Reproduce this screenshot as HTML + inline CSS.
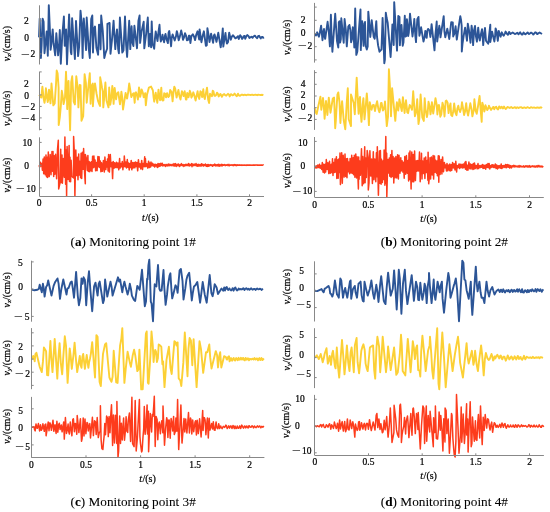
<!DOCTYPE html>
<html><head><meta charset="utf-8"><title>Monitoring points</title>
<style>html,body{margin:0;padding:0;background:#fff;}svg{display:block;filter:blur(0.3px);}</style>
</head><body>
<svg width="550" height="512" viewBox="0 0 550 512">
<rect width="550" height="512" fill="#fff"/>
<polyline fill="none" stroke="#2c5597" stroke-width="1.9" stroke-linejoin="round" points="39,37.4 39.7,18.6 40.9,58 41.6,45.2 42.6,18.6 43.6,21.9 44.5,53.2 45.3,46 46.7,31.4 47.8,55.8 48.8,5.1 50,31.9 50.6,49.8 51.4,43.9 52.7,29.4 53.6,43.5 55.2,55.4 56.3,33.2 58.1,55.3 59.2,43.5 59.8,30 60.8,63.8 62.3,35.1 63.9,16.5 64.7,45.8 65.4,37.5 66.1,29.4 67,64.2 69.1,14.4 70,34.6 70.8,51.9 71.4,54.2 72.1,18.1 74.9,59 76,20.9 78.1,56.1 79.1,46.9 80.5,10.7 81.8,23.8 82.6,58 83.1,37.1 83.8,18.5 84.8,32.6 86.1,50.1 86.7,17.5 88.7,47.8 89.8,58 91.2,19.1 92.3,15.5 93,52.5 93.9,28.9 95,26.5 96.4,47.7 98.1,54.8 99,24.6 99.7,25 100.6,49.4 101.2,15.5 102.8,31.2 104.3,58 105.5,53.1 107.1,48.7 107.4,23.8 108.5,23.4 109.6,23 110.5,53.8 111.9,40.7 113.6,20.7 114.5,37.5 115.3,49.1 116.3,35.3 117,29.4 118.2,49.4 118.9,53.4 119.9,17.5 122.3,52.6 123.5,50.3 125,16.5 126.1,44.3 127.1,56.9 129.2,20.7 130.3,49.1 131.1,32.6 131.6,26.3 132.4,42.4 133.4,46.1 134.4,25.8 137,48.3 138.4,21 139.6,15.5 140.1,43 141.6,31.5 143.7,21.7 144.3,48.4 146.2,33.3 147.8,17.5 148.8,46.3 150,33.9 151.1,47.2 151.7,21.4 152.6,43.7 154.2,48.8 155,38.2 155.7,31.5 157.5,41.1 158.5,31.8 159.5,24.8 160.2,36.6 160.8,41.5 161.7,39.4 162.5,34.7 163.1,38.3 164.1,42.3 165,35.6 165.5,34 166.5,39.2 167.9,43.1 168.6,32.6 169.3,31 170.3,39.5 171.1,46.3 171.7,37.9 172.6,34.4 173.6,37.3 174.7,40.4 176,36.3 176.8,31.1 177.5,33.6 178.7,40.3 179.9,36.4 181.2,30.5 182.3,35.3 183,39.9 184.1,37.1 185,33.2 186.1,35.9 186.9,40.4 188.1,39.9 188.9,35.6 189.5,35.7 190.4,43 191.4,36.1 192.8,34.3 194,36.5 195.1,40.1 196.2,34.8 197.5,31.3 198.1,34.2 199.2,39.6 199.6,29.4 201.4,42.2 202.7,35.7 203.9,31.3 205.9,45.9 206.8,45.3 207.4,28.2 208.5,34.6 209.5,42.1 211.1,33.6 213.1,42.8 213.9,35.7 214.5,34.4 215.3,37 216.5,41.9 218.3,32.8 220.7,47.4 221.8,39.5 222.8,28.4 223.3,46.6 224.2,40.6 225.5,32.9 226,38.6 226.9,43.6 228,42.2 229.2,32.7 230.2,37.2 230.8,39.7 231.7,36.9 232.9,35.2 233.9,36.4 235.4,38.3 236.6,37.7 237.5,36.5 238.1,36.2 238.8,39 240.2,35.2 241.2,36.6 242.1,38.9 243.1,37.6 243.7,36.1 244.6,35.9 245.2,38.9 246.5,35.8 247.2,35.1 248.4,36 249.5,38 250.4,37.3 251.4,36.7 252.6,37.8 253.4,36.5 254.9,35.7 256,37.1 257.2,38.2 258.3,36 259.1,35.8 259.8,36.9 260.8,38.4 261.4,37.1 262.2,36.9 262.9,37.2 263.6,38.6"/>
<polyline fill="none" stroke="#fcd035" stroke-width="1.9" stroke-linejoin="round" points="39,94.9 39.9,95.8 41.3,97.6 42.4,86.7 43.6,98.4 44.5,102.8 45.2,98.9 45.9,88.3 47.7,102.1 48.2,99.9 49,89.6 49.9,97 50.5,103.3 51.5,83.5 53.3,105.3 54.7,103.5 56,84.3 56.7,70.5 57.6,73.3 58.6,87.7 58.7,125 59.8,117.3 60.8,106.4 61.8,90.8 62.7,96 63.6,104.1 65,97.5 66,71.7 66.8,90 67.2,109.1 67.9,86.4 68.5,80.9 70.1,130.2 71.2,82.1 72.2,76.3 73.7,101.7 74.9,104.5 75.6,89.3 76.3,76.3 77.6,87 78.4,107.4 79.7,85 80.5,85.1 81.5,120.8 83.2,116.1 84.6,74.2 85.9,82.8 86.7,102.7 88,90.2 89.8,73.2 90.6,103.8 91.9,85.1 92.8,83.5 92.9,106.3 94,90.2 95,83.5 96.5,93.5 98.1,101.2 99.3,104.3 100,106 100.2,77.3 101.3,83.4 102,87.4 102.8,91.4 103.3,107.4 104.2,97.6 105.4,82.5 106.5,100.5 108.5,107.4 109.2,87.5 110.3,104.7 111.4,97.7 112.3,85.9 112.9,90.8 113.6,103.9 114.7,88 116.1,99.3 116.9,93.7 118.3,92.2 119.1,98 120,104.3 120.9,96.6 121.4,91.6 122.2,97.2 123,109.5 125.6,93 126.4,97 127.1,98.5 128.2,92.1 129.2,83.5 130.1,88.8 131.3,97.1 132.5,94.3 133.4,93.3 133.9,94.9 134.7,102.8 135.3,92.7 136,92.2 137,95.5 137.9,99.6 139,87.5 139.5,89.8 140.2,96.9 141.2,92.5 141.7,89.5 142.9,92.8 143.7,97.3 144.3,96.4 145.2,93.1 145.8,105.3 147,94.8 148.9,87.6 151.1,86.6 152.9,90.5 153.6,97.4 154.2,101.7 155.7,92.7 156.3,96.6 157.3,102.8 158.5,89.7 159.2,96.3 160.1,100.2 160.8,93.4 161.3,87.6 161.9,99.5 162.6,100.6 163.4,100.3 164.2,93.2 165.2,93.9 166,97.4 167.1,93.1 168.3,97 169.4,95.8 170.2,89.9 171.7,92.3 172.6,101.3 173.5,91.7 174.3,86.6 175.2,88.7 176.6,97.6 178.4,89.9 179.4,95.9 180.5,99.6 181.9,91.2 182.5,92.5 183.6,96.1 184.7,91.3 185.9,99.5 186.5,99.5 187.2,93 187.8,93.9 188.5,97.3 189,95.4 189.8,90.8 190.7,93 191.4,97.7 192.3,95.8 193.3,92.3 194.3,95.3 195.6,100.5 196.5,96.1 197.6,91.2 198.3,96.2 199.3,98.9 200.4,91.3 201.2,92.2 202.1,97.1 203.3,89.3 203.9,96.1 204.8,99 207,87.6 208.2,99.8 209.1,103 210,93.8 210.9,95.4 212,96.2 212.7,90.8 213.4,91.3 214.4,95.9 215.3,95.8 216.1,95 217,92.7 217.8,93.6 218.7,96.4 220.5,93.9 221.9,96.8 223,94.8 224.2,94.1 225,95 226.2,95.7 228,93.8 229.1,94.9 229.7,96.4 230.4,94.4 231.2,94.3 232.4,95.4 233.2,95.1 234.6,93.6 235.5,95 236.9,96.2 238,93.7 238.8,95.3 240,95.8 241.1,95 241.7,94.6 242.6,94.8 243.4,95.2 243.9,95 244.8,94.7 245.8,95.1 246.4,95.2 247.7,94.7 248.6,94.6 249.6,94.9 250.7,95 251.3,94.9 252,94.7 252.6,94.8 253.4,95.1 255.4,94.6 257.2,95.2 258.3,94.7 259.5,94.9 260.7,95 262.3,94.8 263.4,95.2"/>
<polyline fill="none" stroke="#fd3c1c" stroke-width="1.5" stroke-linejoin="round" points="39,165.2 39.7,167.2 40.5,162.2 40.9,166 41.8,163.4 42.4,170.3 43.1,159 43.7,173.8 44.3,157 45.2,174.7 46,154.9 46.5,176.8 47.2,157.2 47.6,177.6 48.3,152.1 49.2,176.6 50.2,154.6 51,174.7 52,151.4 52.5,171.3 53,151.6 53.7,176.6 54.3,155.8 54.9,174.3 55.6,154.3 56.6,178.7 57.5,149.6 58.3,140.2 58.7,188.9 60,183.1 60.7,149.2 61.2,182.6 62,155 62.4,183.2 63.4,158.6 64.3,177.3 64.9,137.1 65.6,184.3 66.1,150 66.6,196.2 67.1,146.6 68.1,179.6 69.1,145.4 69.5,181.4 70,157.2 70.6,181.8 71.1,160.2 72,176.5 72.7,177.2 73.6,177.9 73.6,136.5 74.3,152.1 74.9,196.2 75.8,150 76.6,175.6 77.4,157.3 78,179.8 78.7,154.1 79.1,175.1 79.8,161.3 80.6,177.7 81.1,153.2 81.7,178.6 82.4,152.3 83.2,169.3 83.6,148.5 84.6,173.2 85.3,183.7 85.3,154.4 86.5,158.6 87.2,170.2 87.9,155.4 88.3,171.5 89.1,161.4 89.7,171.7 90.2,162.5 90.9,170.4 91.4,161.7 92,171.5 92.6,156.3 93.2,167.7 93.9,155.9 94.6,167.1 95.1,160 95.6,170.8 96.5,162.4 97.1,170.6 97.9,156.6 98.5,166.7 99.1,156.7 99.6,167.5 100.3,160.9 100.9,171.7 101.5,162.8 102.4,171.3 103.4,160.6 104.3,171.9 104.9,157.1 105.8,169.6 106.5,161.7 107.1,167.1 107.5,158.9 108.1,170.9 108.6,154.5 109.4,172.1 110.3,154.4 111,166.7 111.9,162.5 112.6,178.6 113.2,161.4 114.1,168.2 114.7,162.7 115.6,167.4 116.5,162.2 117,167.7 117.9,163.1 118.8,169.8 119.6,158.6 120.1,168.1 121,163.4 121.5,166.8 122.3,161.6 122.9,169.7 123.4,163.2 123.9,166.7 124.3,156 125.2,166.7 125.9,161.9 126.5,167.9 127.3,159.6 127.9,167.2 128.5,163.1 129.2,169.9 129.9,163.5 130.4,167.6 131.2,160.4 131.8,169.8 132.6,162.6 133.2,168 134,162.6 134.8,167.8 135.4,162 136.2,166.5 136.8,162.6 137.7,170.8 138.4,159.7 139.2,167 139.9,163.7 140.8,168.9 141.7,160.4 142.5,169.6 143.2,163.5 144,166.5 144.7,156.8 144.9,166.7 145.4,158.6 145.9,166.4 146.8,163.7 147.7,168.1 148.6,161.2 149.3,167.6 149.8,163 150.5,167.1 151,162.1 151.9,165.8 152.5,163.3 153.4,166 153.9,164.3 154.7,167 155.3,164.2 156,166.1 156.6,164.6 157.3,167.4 158,163.4 158.5,166.7 159.3,163.7 160,166.2 160.8,163.2 161.3,165.6 162.2,163.3 162.9,166 163.7,164.6 164.3,165.7 165,164.5 165.6,166.4 166.5,164.5 167.3,165.9 168.2,164 168.8,165.7 169.2,164.2 169.9,165.6 170.5,164.5 171.3,165.6 172.3,164.3 173.1,166 174,163.6 174.7,166 175.5,163.6 176.2,166.4 177.1,164.3 177.7,165.7 178.5,164 179.4,166.6 180,164.7 180.6,165.6 181.4,163.6 182.3,165.7 183.2,164.5 183.9,166.4 184.3,164.7 185.2,165.7 185.8,164.2 186.6,165.5 187.2,164.4 187.9,165.6 188.7,163.5 189.3,166 189.8,164.6 190.6,165.5 191.5,163.6 192,166.7 192.6,163.9 193.5,165.7 194.3,164.1 195.1,165.7 196,163.5 196.8,166 197.3,164.4 197.9,166.2 198.7,164.3 199.2,166.1 200,164.7 200.9,166.1 201.4,163.7 201.9,165.7 202.7,164.2 203.4,166.1 204.1,164.6 204.6,165.5 205.4,164 206.2,166.2 206.8,164.7 207.4,166.4 207.9,164.4 208.4,166.2 209,164.6 209.7,165.9 210.5,164.6 211.4,165.5 212,164.8 212.5,166.2 213.3,164.8 213.8,165.7 214.7,164.1 215.5,165.9 216,164.6 216.6,165.8 217.3,164.8 217.9,166 218.3,164.2 219.2,166.2 219.8,164.5 220.6,165.8 221.6,164.4 222.1,166 222.8,164.6 223.7,165.3 224.5,164.5 225.2,165.6 225.9,164.9 226.6,165.3 227.3,164.6 228,165.6 228.9,164.4 229.4,165.7 230.2,165 230.8,165.3 231.3,164.8 232.2,165.4 233.1,164.7 233.6,165.6 234.4,164.6 235.2,165.5 235.8,164.7 236.8,165.6 237.4,164.8 238.1,165.3 238.6,165 239.1,165.3 239.8,164.8 240.5,165.3 241.3,165 242,165.4 242.6,165.1 243.5,165.3 244.2,165 244.9,165.3 245.4,165.1 246,165.4 246.5,165 247,165.2 247.5,165 248,165.2 248.5,165.1 249.2,165.2 249.6,165 250.3,165.3 250.7,165 251.4,165.2 252.3,165.1 252.8,165.3 253.3,165 253.9,165.2 254.4,164.9 255,165.3 255.6,164.9 256.2,165.2 256.8,164.9 257.6,165.2 258,165 259,165.3 259.4,165.1 259.9,165.2 260.3,165.1 261.1,165.3 261.7,164.9 262.3,165.3 263.3,164.9 263.7,165.2"/>
<polyline fill="none" stroke="#2c5597" stroke-width="1.9" stroke-linejoin="round" points="314.7,33.5 315.4,34.3 315.9,35.5 316.5,34.2 317.2,32.3 317.9,34.6 318.9,36.7 319.8,33 321.1,25.6 322.5,40.2 323.3,32.1 324,29 324.6,36.5 325.2,38.9 327.6,21.8 328.9,32.8 329.9,46.4 330.9,14.8 331.5,34.8 332.4,51.7 335.2,13.7 337,41 338.3,47.5 338.8,22.3 339.5,21.2 340.1,42.6 340.8,39.4 341.3,18.3 343.7,42.7 344.6,19 345.8,29.5 346.8,46.4 348.3,26.6 349.4,24.9 350.4,30.3 351.1,42.2 352,39 352.8,27.3 353.4,31 354.3,47.5 355.2,8.4 356.3,54.9 357.3,51.7 358.8,31.3 360.5,9.5 360.8,50.1 361.4,36.5 362.2,21.1 362.9,34.3 363.6,45.9 364.4,23.5 365,22 365.7,45.7 366.8,49.6 367.7,46.5 368.3,11.6 369.2,21.8 370.3,37 370.9,31.5 371.7,20.2 373.7,36.8 374.7,38.7 376.3,21.1 377,36.7 378.1,45.4 379.5,51.7 380.6,50.4 381.5,49.5 382.6,17.9 383.7,45.8 384.3,63.3 384.9,59.5 385.8,12.7 386.6,17.8 387.7,22.8 390.6,57 391.7,38.8 392.4,24.4 393.1,29 393.7,45 394.2,2.1 397,50.6 398.3,15.9 399.5,16.9 399.9,45.3 400.8,28 401.5,24.9 402.2,35.5 402.7,45.7 403.5,42.2 404.8,15.8 405.6,36.6 406.2,36.1 406.9,19.2 407.7,27.5 408.2,36 408.8,32.9 410,13.7 412.5,36.5 413.7,26.8 414.3,18.9 415.3,35.5 416,42.1 417.3,19.2 418.5,16.9 419.4,35.8 420.4,31.2 421.1,27.3 423.5,41.6 424.6,37.3 425.3,30.9 426.1,34.4 426.7,37.8 427.3,30.8 428.1,28.9 429.4,30.3 430.4,37 431.6,24.1 434.5,50.4 435.3,36.2 436.7,21.5 437.2,41.6 439.3,25.8 439.9,29.3 440.5,37.4 443.7,16.1 444.4,31.3 445.3,37.3 447.3,28.6 449.3,39 451.2,22.3 452.8,22.5 453.2,36.5 454.4,33.7 455.6,26.3 456.8,39.6 458.8,25.9 460.3,16.1 461,19.6 461.7,25.9 461.8,51.5 462.5,43.9 463.7,35.7 464.6,30.4 465.1,27.6 467,40.8 467.8,23.6 469.1,31 470.5,42.7 471.6,25.6 472.5,32.5 473.1,45.1 474.2,29.4 475,25.9 475.9,36 476.9,41.7 478.2,27.7 479.2,37.8 479.8,40.6 480.8,34.6 482,29.1 482.8,38.7 483.2,45.1 484.3,32.7 485,28 486,40.8 486.7,41.8 488.2,43.8 490.3,24.7 490.3,42.1 492.1,31.6 493.5,37.9 494.4,41.5 495.1,36 495.6,28.4 496.6,31.4 497.8,40.8 498.8,30.9 499.4,32.9 500.6,36.7 501.8,32.3 502.9,34.9 503.8,35.7 504.9,33.3 505.6,31.6 507,33.9 507.9,34.8 509.1,31.9 509.9,33 510.4,34.1 511.5,33.3 512.7,32.5 514.9,34 515.9,33.6 517.3,32.8 518.6,34.3 519.4,33.1 520.1,32.3 521.6,34.6 522.5,34.5 523.6,32.6 524.7,33.9 525.5,34.3 526.7,33.3 527.6,32.4 528.8,34 529.8,33.6 531.1,32.6 532.5,33.5 533.3,34.6 535.2,32.3 536.1,32.7 537.2,34.1 539.6,32.5 542,34"/>
<polyline fill="none" stroke="#fcd035" stroke-width="1.9" stroke-linejoin="round" points="314.7,107.7 315.6,112.3 316.7,114 318.4,105.7 320.4,96.6 321.3,109.8 323,98 323.7,104.4 324.6,118.7 325.3,110.5 326,101 326.8,109.4 327.4,115 328,106.9 328.8,97.6 330.5,112.7 331.5,106.5 332.8,98.5 334.1,97.6 335.2,128.2 335.8,121.2 336.4,110.2 337.4,94.7 338.3,92.4 339.5,102.4 340.4,123 341.3,109.5 342.1,101.1 343.7,120 345.3,129.3 346.7,103.3 347.8,88.2 348.7,119.3 349.8,122.4 351,126.1 351,94.5 353.7,103 354.8,114.2 356.7,77.6 357.4,92.1 358.6,113.8 359.4,99.9 360,96.9 360.8,114.5 361.5,121.9 362.7,104.4 363.4,98.2 364.5,119.4 365.5,109.1 366.8,93.4 368,108.5 368.9,125.1 369.8,102.1 370.6,106.2 371.6,109.7 372.7,105.1 373.8,104.9 375,111.1 376,105.5 377.1,101.2 378.4,109.1 379.4,112.2 380,110.1 380.9,103.2 381.6,102.9 382.9,110.5 384.2,108.2 385,101.5 386.1,116.2 386.8,126.1 388,116.6 388.9,69.2 389.8,84.3 391,116.2 392.1,88.2 395.3,120.9 396.2,108.6 396.9,102.3 397.4,105.9 398.2,110.5 398.8,106.1 399.4,99.2 400.8,106.5 401.8,111.1 402.9,97.1 404.6,113 405.3,105.2 406,100.3 407.3,112.4 408.1,113.2 408.7,109.8 409.7,105 410.9,106.8 412,109.8 413.2,91.3 414.1,104.1 414.9,116.3 416.2,111.9 417.2,99.2 417.7,109.4 418.5,124 419.3,119.2 420.6,94.5 422.3,117.3 423.8,120.9 424.7,98.3 425.5,109.1 426.9,117 427.6,113.7 428.5,101.7 429.7,106.7 430.5,114.4 431.3,109.1 431.9,102.2 433.2,113.5 434.1,107.8 435.5,98.1 436.7,104.8 437.4,114.5 438.2,105.5 438.9,104.9 439.5,107.8 440.3,116.7 441.3,114.3 442.5,102.7 443.7,107.2 444.5,116.5 445.7,101.1 446.5,100.6 447.6,102.6 448.6,113.1 449.3,107.7 450.5,103.4 451.2,115.2 452.2,116.2 453.4,110.5 454.2,103.4 455.3,112.4 456.5,115.2 457.4,108.5 458.3,105.7 459,109 460.1,112 461.3,108 462,102.3 462.9,107.4 464.1,115 465,111.8 466.2,103.2 466.9,110.3 468.1,115.6 470.3,103.3 471.5,109.1 472.4,116.4 473.7,110.2 474.4,99.3 475.7,110.9 476.7,113.8 477.9,107 479.6,96 480.4,107 481.7,121.8 482.3,102.6 483.6,107 484.3,111.5 484.8,109.7 485.5,105.2 486.6,108.4 487.3,110.1 488.4,108 488.9,105.7 489.9,107.8 491,109.9 492.2,108.2 493,107.1 493.5,106.9 494.2,109.3 495.1,107.6 496.2,106.7 496.9,108.4 498.1,109.4 499.2,106.4 500.5,108.3 501,107.3 501.7,106.7 502.3,107.9 503,108.5 504,106.6 504.7,107.8 505.6,109 506.2,108.6 507.4,107 508.5,107.4 509.7,108 510.2,107.6 511.2,107 512.2,107.8 512.8,108.1 514.1,107.5 515,107.2 516,108.2 517.2,107.3 517.9,107.7 518.7,108 519.7,107.4 521,107.2 522.6,108.1 523.5,107.6 524.5,107.4 525,107.7 525.7,108 526.7,107.6 527.5,107.2 528.5,107.6 529.8,108 530.4,107.7 531.3,107.2 532.3,107.8 533.3,107.6 534.1,107.4 534.5,107.6 535.3,107.9 536.3,107.7 537.6,107.5 538.3,107.7 539.2,107.8 539.9,107.7 540.6,107.3 541.4,107.5 542.1,108"/>
<polyline fill="none" stroke="#fd3c1c" stroke-width="1.5" stroke-linejoin="round" points="314.7,166.4 315.6,167.9 316.1,165.8 316.9,168 317.8,165 318.6,167.6 319.5,164.2 320.2,168.3 321,165.4 321.7,169.4 322.3,162.6 323.1,172.2 323.7,164.3 324.5,173 325.2,164.3 325.7,172 326.3,159.6 327.1,169.4 327.9,162.7 328.8,173.6 329.5,161.2 330.3,173.2 331.3,164.2 331.9,172.8 332.5,158.8 333,175.5 333.7,162.6 334.5,172.4 335,158.9 335.5,171.9 336.4,156.7 336.8,178.6 337.3,159.7 338.2,178.2 338.8,158.9 339.4,172.5 340,153 340.4,184.6 341.7,152.7 342.3,183.3 343.2,155.3 344.1,177.1 345,154.1 345.7,176.4 346.5,158.7 347,177.7 347.5,158.5 348.4,171.7 348.8,161.9 349.6,173.8 350.1,158.5 351.1,173 351.7,155.3 352.5,173.4 353.2,157.7 353.7,174.7 354.3,155.3 354.9,177.2 355.8,153.9 356.5,178.1 357.1,156.8 358.4,188.9 358.7,156.9 359.1,179.2 359.6,161.1 360.4,175.2 361.5,148.8 362.2,185.7 362.7,156.5 363.6,183.7 364.7,146.7 365.1,182.7 365.8,157.9 366.4,177.4 367.2,150.5 368.2,157.4 368.3,189.9 369,183 369.9,150.7 370.7,176.1 371.6,159 372.4,183.4 373.3,151.7 374,179.7 374.8,159.1 375.8,181.7 376.4,152.8 377.1,176.7 377.3,146.7 378.4,195.2 379.4,151 379.8,183.2 380.4,150.6 381.1,184.3 381.5,159.3 382.4,182.5 383.1,160.7 383.6,179.6 384.1,149.9 384.9,185.3 385.8,136.5 386.2,183.5 386.7,153.3 386.8,197.3 387.8,159.5 388.5,173 389.3,157.9 389.8,176.3 390.6,154.8 391.1,177.5 391.9,150.4 392.5,176.5 393.1,156.6 393.8,183.1 394.6,158.1 395.2,177.8 395.9,156.4 396.8,177.9 397.6,154.8 398.4,179 399,155.3 400,173.2 400.8,157.7 401.2,170.9 402.1,160.7 402.9,172.1 403.5,162.3 404.2,178.3 404.8,156.6 405.7,174.3 406.4,155.4 407.3,173.3 408.1,160.5 408.6,181.1 409,153 409.9,179.5 410,150.9 411.1,188.9 411.8,152.1 412.7,181.7 413.2,154.4 413.8,181.7 414.6,151.1 415.4,180.6 416.3,160.8 417,171.2 417.7,160.6 418.6,171 419.5,152 420.2,181.8 420.7,160.6 421.1,171.8 421.5,153.2 422,179.1 422.5,160.9 423.2,173.6 424.2,158 424.9,178.5 425.7,157.1 426.3,172.6 427.2,160.6 427.9,180.2 428.1,152.2 428.7,183.8 429.5,176 430,157.7 430.6,178.9 431.4,157 432.2,174.9 433.1,155.5 433.6,179.1 434.5,156 435.1,172.2 435.6,160.3 436.5,173.2 437,161 437.4,175.8 438.3,155.7 438.8,182.3 439.2,156 440.1,174.4 441.1,159.6 441.9,173.9 442.6,156.9 443.5,171.8 444.4,162.6 445.2,167.8 445.7,165 446.5,171 447,163.4 447.5,170.8 448.3,165.1 449.3,170.6 449.8,164.1 450.3,170.9 451.2,164.8 451.7,170.4 452.6,162.4 453.3,167.9 454.1,163.8 455,170 455.8,161.3 456.6,171.9 457.1,165.4 458,167.6 459,163.9 459.5,168.5 460.3,164.2 461.1,167.8 462,164.3 462.8,168 463.6,163.9 464.3,167.6 465,162.3 465.5,169.2 465.9,161.5 466.9,170.2 467.6,165.3 468,170.1 468.9,162 469.8,168.7 470.4,164 471,169 471.9,164.4 472.9,169.4 473.3,163.5 474.1,168.9 474.5,163.1 475.2,168.5 475.7,165.6 476.2,167.5 476.8,165.5 477.2,168.8 478,163.5 478.6,168.6 479.3,165.6 480.2,167.6 480.8,165.5 481.7,167.3 482.3,164.6 483,168.4 483.4,164.9 484.2,168.2 484.9,165.3 485.7,169.2 486.4,164.4 487.3,167.4 487.9,163.5 488.4,167.7 489.1,163.4 489.8,169 490.3,165.4 491.1,167.5 491.9,164.8 492.3,167.1 493,164.8 493.5,167.4 494,165.4 494.5,167.6 495.3,164 496.1,168.5 496.7,164.9 497.5,168.9 498.1,165.8 498.5,167.9 499.4,165.6 500.3,168.2 501.2,163.9 501.7,168.5 502.2,165.7 502.8,167.8 503.3,165.4 503.8,167.1 504.3,165.8 504.8,167.4 505.5,164.5 506.2,167.8 506.8,164.7 507.4,167.1 507.8,164.6 508.3,167.2 509,164.9 509.7,168 510.5,165.6 511.4,167.9 512.1,165.7 512.8,166.7 513.6,165.4 514.2,167 514.8,165.4 515.4,166.8 516.2,166 517.2,166.9 517.9,166 518.7,166.9 519.1,165.5 519.6,167 520.4,165.9 521.1,166.9 522,166.2 522.9,167 523.6,165.8 524.4,167.2 525.4,165.9 526,166.8 526.9,165.9 527.4,167 527.9,166 528.7,167 529.4,165.6 530.1,167.3 531,166.1 531.9,166.8 532.8,165.8 533.5,166.7 534.4,166 534.8,167.1 535.2,166.2 535.7,167 536.4,165.9 537.3,166.9 537.9,165.5 538.4,166.6 538.9,165.5 539.6,166.8 540.2,166 541,167 541.6,166.1 542.5,166.9 543.2,166.1"/>
<polyline fill="none" stroke="#2c5597" stroke-width="1.9" stroke-linejoin="round" points="31.4,289.1 32.5,289.9 34.3,290.2 37.5,289.8 38.8,289 39.7,284.8 41.8,292.3 42.9,283.8 43.7,288 44.6,296.6 45.6,290 46.1,287 47.2,285.3 48.2,280.5 51.5,295.6 53.6,285.9 55.2,281.9 57.5,278.4 58.6,283.6 60,298.8 61.3,289.3 63.3,279.5 66.5,294.5 67.5,288.3 68.6,288 70.6,282.3 71.8,281.6 72.9,289 74,297.7 74.9,287.1 76.1,271.9 77.8,296 78.9,305.2 80.3,298.1 81.5,278.4 82.6,283.8 83.6,277.3 84.9,279.9 86.2,305.2 87.7,282.6 89,271.3 90.4,290.2 92.2,311.2 94.1,286.3 95.5,282.7 97.6,295.6 98.7,283.9 99.7,281.6 101.3,291.8 103,303.1 104,300 105.1,279.5 107.3,296.6 110.5,281.6 111.6,286.9 112.6,295.6 118,277.3 119.1,281.6 120.1,279.5 122.3,292.3 123.1,287.2 124.4,281.6 125.6,286.8 127.6,294.5 128.9,289.4 129.8,283.8 131,289.2 131.9,295.6 133.9,299.8 135.2,300.9 137.3,285.9 138.5,287.7 139.7,289.7 142,269.8 144.8,306.3 146,301.6 147.1,278.7 147.6,279.5 148.4,265.5 149.3,259.7 150,277.5 150.8,301.6 151.6,303.6 153,321.3 153.8,301.3 154.7,284.2 156.4,286.5 158,265 159.4,288.8 160.2,290.7 161.6,290.6 163.5,270 164.3,287.3 165.6,304.9 167,294.9 167.8,286.4 169.5,275.9 170.4,273.3 171.4,289.2 172.2,298.4 173.7,292.7 175.5,285.3 176.8,287.8 177.6,292.9 179.6,270.3 180.9,268.9 182.5,280.8 183.5,299.5 185.3,288.4 186.4,279.8 187.5,275.8 189.2,272.8 190.2,283 191.8,300.5 192.7,293.6 194,286.4 195.4,285.3 197.3,282 198.4,289.8 200.1,302.7 201,296.2 202.7,282 204.8,294.9 206.7,302.7 209.7,275 211.4,293.2 212.6,296.2 213.6,291.7 214.7,284.2 216.6,287.5 218,294 221.5,288.6 222.5,289.6 223.2,290.7 224.2,287.5 225,290.6 225.8,287.8 226.8,287 227.4,289.3 228.3,290 229.4,288.4 230.1,289.6 231,290.4 232,289.6 232.6,288.2 233.6,290.7 234.4,288.5 235.4,287.5 236.2,289.4 237,290.5 238,289.7 238.6,288.6 239.9,289.6 240.7,288.9 241.8,289.5 242.4,289.2 243.3,288.2 243.7,288.7 244.5,290 245.4,288.8 246.3,288.2 247.5,289.5 248.5,288.8 249.5,289.7 250.1,289.2 251.2,288.3 251.7,288.8 252.5,289.7 253.2,289.4 254.1,288.9 254.9,289 255.6,289.9 256.5,289 257.2,288.4 258.5,289.4 259.2,289.2 260.1,288.7 260.9,289.3 261.7,289.9 262.9,288.7"/>
<polyline fill="none" stroke="#fcd035" stroke-width="1.9" stroke-linejoin="round" points="31.4,359.1 32.6,358.3 33.2,356 34,357.8 34.7,361.4 35.4,354 36.4,352.8 39.7,366.8 41.8,372.1 42.9,361.9 43.9,347.5 46.1,351.3 47.1,375.1 48.2,375.4 50.4,341 51.4,359.5 52.5,372.1 54.7,338.9 57.3,378.6 58.5,356.7 59.6,343.2 60.8,363 62.2,374.3 63.2,358.1 64.8,336.3 66,345.6 67.6,382.9 68.6,367.2 69.7,348.5 70.6,355.2 71.8,368.9 73.4,355.5 74.6,342.7 76.1,361 77.2,372.1 79.8,356 80.6,364.9 81.5,367.8 82.4,356.8 83.2,353.9 84.9,368.9 86.7,355 88.4,367.8 89.1,362.3 90.1,358.2 90.9,353.6 92.2,342.1 95,377.5 96.4,335.1 97.6,336.7 99.6,382.1 100.8,386.1 103,353.9 105,344.4 106.2,343.2 109.4,377.5 110.3,379.5 111.5,381.8 112.6,376.8 113.7,350.7 116.2,382.4 117.6,382.9 119.2,357.6 120.1,345.3 121.4,338.3 122.3,328.1 124.4,382.9 125.7,369.2 127.6,351.8 129.7,361.9 130.9,366.8 132.7,355.4 134.1,349.6 135.3,355.6 137.3,371.1 138.4,369.5 139.4,349.6 141.2,389.4 142.7,389.3 145.9,333.5 146.7,331.5 147.9,382.7 148.6,383.8 150.5,354.4 151.5,331.5 152.8,345.7 153.6,362 154.3,354.2 155.2,350 156,351.7 156.9,362 157.9,358.3 158.7,344.5 159.7,345.1 161.3,346.7 162.4,364.2 163.1,361.4 164.5,387.1 166.5,359.9 168.9,346.7 170.5,368.1 171.7,374 173.3,354.3 174.4,341.3 175.7,342.5 176.5,345.6 177.6,342.4 178.7,378.4 180.3,380.5 181.3,386 183.3,362.9 184.8,332.5 186.2,354.5 187.5,376.2 188.5,348.6 189.6,338 190.9,340.4 192.3,365.3 192.8,352 193.6,339.1 196.6,387.1 198.3,360.6 199.5,341.3 201,349.2 203.2,372.9 206,352.2 207.3,352.2 209.3,344.5 210.2,357.4 211.5,368.5 215.8,351.1 217.1,355.2 218,367.5 219.3,355.9 220.2,352.2 221.3,367.5 224.1,356.2 225.9,357.1 226.7,359.4 227.1,359.6 228.3,356.7 229,356.2 229.6,361.4 230.6,359.6 231.1,358.1 232.1,360.7 233.6,357.9 234.2,359.5 235.1,360.5 236.2,358.1 237.7,360.2 238.6,357.8 239.4,359.7 240.1,359.5 240.9,357.8 241.9,359.6 243.1,357.9 243.8,359.2 244.3,360.3 244.8,360.4 245.6,357.9 246.8,359.7 247.9,358.3 249,360.2 249.9,358.7 250.5,359.1 251.2,359.6 252.2,358.7 253,359 253.6,359.6 254.5,358 255.6,359.6 256.4,358.7 257.1,358.4 258,360.3 258.8,358.7 259.4,358.1 260.3,360.1 261.5,358 262.4,360.1 263,359.6 263.8,358.4"/>
<polyline fill="none" stroke="#fd3c1c" stroke-width="1.5" stroke-linejoin="round" points="31.4,426.9 32.5,427.3 34,426.6 34.5,429.4 35.2,430.9 36,423.9 36.8,427.7 37.3,428.3 38.4,423.6 39.6,430.9 40.5,424.8 41.3,430.3 42.1,428.8 42.9,423.8 44.3,431.3 45,424.7 45.8,424 46.1,435.8 48.2,422 49,430.7 49.9,422.8 50.6,424.6 51.4,430.3 52.3,425 53,420.2 53.8,431.3 55,424.8 56.1,433.4 56.9,421.3 57.8,432.2 58.8,424.4 59.3,423.2 60.1,429.5 60.8,426.4 61.3,424.9 62.1,431.8 62.7,428.6 63.7,421.9 64.3,439.1 65.4,417.6 66.5,433.4 67.2,430.2 68.1,424.1 68.7,431.5 69.4,434 70.3,422.1 71,428.6 71.9,435.8 72.8,419.5 73.4,418.8 74.4,431.7 75.1,423.4 75.7,423.9 76.8,434.3 77.2,415.5 78.2,425 78.9,432.6 79.5,426.6 80.4,418.8 81.5,441.2 82.1,438.9 83.2,418.1 84,435.9 85,419.1 85.9,433.8 87,422.4 87.7,423.5 88.3,430.9 88.8,427.2 89.8,423.6 90.5,438 92.4,417.2 93.4,435.6 94.5,420.8 95.4,421.8 96.2,434.4 97.2,417.6 98.3,437.6 99.4,432.2 100.2,431.5 100.4,405.8 101.1,439.6 101.9,448.7 102.9,449.5 103.5,442.2 104.1,436.3 104.8,423.4 105.5,434.8 106.6,416.1 107.6,418.2 108.3,436.6 109.1,416.5 110,432.8 110.9,412.7 111.5,404.7 112.6,445.5 113.4,414.9 114.5,442.9 115.4,415.3 116.2,432 116.8,443.5 116.9,401.5 118,457.3 118.6,451.5 119.7,415.9 120.5,443.4 121.4,423.3 122.3,439.9 123.6,418 124.5,440.2 125.5,429.4 126.1,416.7 127,431.4 127.7,432.4 128.3,420.2 129.4,413.1 130.6,441.4 131.9,397.2 132.6,443.6 134.1,446.6 135.2,400.4 136.2,450.9 137.3,439 139.4,399.4 139.9,436.1 140.5,443.6 141.6,451.9 142.1,451 143,436.7 143.7,428.7 144.3,406.5 145.1,434.3 145.9,427.2 147.1,404.9 147.5,434 148.4,411.2 148.6,451.8 149.5,431 150.3,413.6 150.8,420.4 151.6,431.9 152.3,414.6 153,416.4 153.7,406.6 154.3,396.2 155.2,446.4 156.1,416.6 157.1,419.4 157.8,439.7 158.5,424.6 159.3,421.9 160.4,433.8 160.9,425.9 161.8,420.8 162.8,432.8 163,406 163.9,428.2 164.5,445.3 165.7,427.5 166.7,417.7 167.2,419.9 167.9,437.4 168.8,420.1 169.2,420.1 170.2,438.3 171.1,418.5 171.7,421.6 172.7,430.9 173.6,416.4 174.3,434.5 175.3,431.4 175.9,418 176.8,431.3 177.6,399.5 178.7,449.6 180,424.5 180.9,404.9 182,443.1 183,431.5 184,418.5 184.8,432 185.7,419 186.9,433 187.7,423.3 188.5,412.5 189.4,432.9 190.5,417.9 191,419.7 191.8,434 192.7,420 193.7,431.7 195,422.3 195.6,420.7 196.4,435 197.2,420.2 198.3,433.6 199,426.6 199.6,418.7 201.1,437 202.7,410.4 203.1,430.4 203.8,417.6 204.4,417.8 205.1,420 205.9,434.7 206.8,423.4 207.4,418 208.3,437.9 209.2,418.2 210,430.1 211,426.4 211.6,423.6 212.5,429 213.3,421.8 214.2,430 215,430.2 216.1,421.9 216.6,426.5 217.3,428.6 217.9,428.7 218.7,423.7 219.7,428.5 220.7,425.9 221.2,427.4 222.1,428.6 223.3,426.4 224.1,427 224.7,427.4 225.9,425.1 226.4,425.8 227.2,428.6 228.2,426.8 228.7,425.8 229.6,428.1 230.2,426.3 230.9,425.9 232,428.5 233,425.4 233.6,426.8 234.3,428.6 235,425.9 236,428.6 236.5,428.4 237.3,426 238.2,428.2 238.8,428.2 239.8,425.9 240.7,428.4 241.8,425.1 242.7,426.8 243.5,428.2 244.3,426.2 244.9,426 245.7,427.9 246.8,426 247.3,427.3 248.1,428 248.9,425.7 249.4,425.7 250,427.1 251,427.3 252.1,425.8 252.8,426.5 253.5,427.9 254.4,426 255.4,427.3 256.1,427.7 257.4,425.8 258.3,427.2 259,426.5 259.8,426 260.8,427.8 261.8,426.4 262.8,427.2 263.9,426"/>
<polyline fill="none" stroke="#2c5597" stroke-width="1.9" stroke-linejoin="round" points="314.9,290.8 316.2,291 317.2,291.1 321.6,289.1 322.7,291.1 323.7,292.3 324.6,288.9 325.9,288 328.5,285.9 329.5,288.3 330.2,293.4 331.1,294 332.3,296.6 333.3,293.5 334.9,280.5 337,294.5 337.9,295.8 338.8,297.7 340.3,278.5 341.3,280.5 343,297.7 344.2,291.2 345.2,288 346,292.3 347.3,297.7 349.9,281.6 350.6,280.4 351.2,298.8 352.9,289.2 354.8,285.9 355.6,292.6 357,297.7 358.5,283.8 359.4,283 360.6,281.6 361.6,295.1 362.8,300.9 363.7,301.5 364.5,281.6 366,288.6 367.7,295.6 369.8,289 371.4,280.5 373,293.2 374.2,298.8 376.3,284.8 377.3,291.2 378.5,302 380.2,283.9 381.2,276.2 383.8,300.9 384.5,302.4 385.5,304.1 386.7,287.3 388.1,272.6 390.7,295.6 392.8,288.7 394.1,270.4 395.5,289.7 396.7,309.5 397.9,287.2 398.8,269.8 399.8,278.3 401.4,313.8 403,283.7 404.8,269.8 406,290.9 407.4,304.1 411.7,275.2 412.5,283.9 413.9,300.9 416,281.6 417.3,287.2 418.2,299.8 419.1,300.2 420.3,282.7 421.7,295.2 422.4,299.8 423.7,292.7 424.6,283.8 425.5,287.1 426.7,303.1 427.8,285.7 428.9,279.5 429,273 429.9,286.1 431.6,303.1 433,288.2 433.7,279.5 434.5,294.4 435.4,299.8 436.6,290.5 437.6,281.6 439.7,292.3 440.5,286.3 441.9,281.6 442.6,298.9 444,312.7 446.2,290.6 448.3,273 449.2,277.9 450.5,297.7 452,292.6 453.7,285.9 454.5,283.6 455.8,278.4 457.1,289.6 459,321.3 462.3,260.6 463.4,262.6 464.4,279.5 465.4,280.4 466.6,290.2 467.7,294.6 468.7,298.8 469.8,290.8 470.8,281.6 471.6,304.3 472.3,314.9 475.8,266.6 476.8,284.1 477.6,291.4 479.4,281.6 480.6,292.5 481.6,297.7 483.1,297.8 484.4,303.1 486.5,281.6 487.7,290.8 489.1,296.6 490.4,290.4 492.3,287 493.2,290.3 494.5,294.5 496.4,291.1 498.4,289.5 499.8,292 500.9,289.7 501.5,290 502.3,292.1 503.3,289.3 504.1,291.1 505,292.5 505.8,291.1 506.5,290.2 507.7,291.3 508.5,289.9 509.1,291.2 509.8,292.3 511.2,289.9 511.8,289.8 512.7,291.9 514,289.9 515.3,291.6 516.1,291.1 516.8,289.6 517.3,289.3 518,291.8 518.6,290.1 519.3,289.3 520.2,291.2 520.9,292.3 521.5,291.2 522.1,289.1 522.8,292.4 523.8,292.5 524.8,290.5 525.4,290.3 527,292.3 527.8,289.9 528.9,292.1 529.8,290.3 530.4,290 531.3,291.3 532.2,289.3 534,291.4 534.9,290.5 535.5,289.1 536.5,291.8 537.2,289.6 537.7,289.1 538.8,290.3 539.4,291.1 540.4,289.3 541,290.4 541.8,291.7 542.5,290.4 543.4,289.4"/>
<polyline fill="none" stroke="#fcd035" stroke-width="1.9" stroke-linejoin="round" points="314.9,357.6 316.9,355.3 318.8,359.1 320.7,354 321.7,357.9 322.7,362.3 323.8,358.3 324.6,354 326.5,348.2 327.3,357.6 327.8,363.6 328.6,361.4 329.7,355.9 330.3,358.3 331,364.9 332.2,353.5 333,350.8 334.9,366.2 335.6,368.4 336.8,347.5 338.1,367.4 339.2,377.6 340.4,361.4 342,340 343.2,355.1 344.5,374.4 346,357.3 346.9,345.4 348.3,362.8 349.5,371.1 350.6,352.4 351.6,347.5 353.8,372.2 354.9,345.3 356.6,337.9 357.6,362.2 359.1,373.3 360,364.6 361.3,350.8 362.3,347.2 363.4,344.3 364.7,349.9 365.6,363.6 366.8,368.7 367.7,371.1 369.9,347.5 371.1,346.6 373.1,345.4 374.2,370.1 375.2,378.6 376.5,347.5 377.4,336.8 379.1,346.7 380.2,372.2 381.6,355.1 382.7,336.8 386,372.2 387.2,360.8 388.1,346.5 390.7,370.1 394.1,347.5 396.3,374.9 397.8,372.2 399.8,354.2 401,334.7 401.8,345.6 402.7,371.1 404.2,373.4 405.3,375.4 407.8,338.9 409.5,358.7 410.6,372.2 411.6,359.2 412.8,341.1 413.9,347.8 414.9,359.1 416.2,347.8 417.1,345.4 418.2,370.1 419.5,370.5 420.3,376.5 421.2,351.2 422.4,335.7 424.2,353.7 425.7,371.1 428.1,350.4 429.6,345.4 430,336.8 431.3,354.2 432.2,370.1 433.3,378.6 437.2,328.2 438.5,383.5 439.3,389.4 440.5,362.6 442.3,332.5 444,357.4 445.7,387.2 449.4,344.3 450.9,355.9 452.6,371.1 454.8,355 456.4,345.4 458,336.8 459,346.8 460.1,362.6 462.9,377.6 466.6,343.2 467.6,357.1 468.7,363.6 471.9,350.8 473.4,364.7 474.2,361.2 475.1,350.8 476.6,364.1 477.9,371.1 479.1,360.4 481.1,345.4 482.2,355.4 483.7,375.4 484.9,358.8 485.9,352.9 487.5,358.4 488.7,360 489.8,358.8 491.5,354 492.2,356 493.1,360.5 493.7,359.6 494.6,356.4 495.4,358.4 496.4,355.8 497.3,354.8 499.2,358.4 500.2,355.9 500.8,355.5 501.7,358.5 502.4,359.3 503.3,356.8 504.4,356.6 505.8,360.7 507,357.8 507.7,355.4 508.6,357.3 509.3,359.4 510,358.7 511.2,356.4 511.8,356.9 512.8,359.6 513.8,358.3 514.6,356.3 515.7,358.4 516.3,359.5 517.8,355.9 518.4,357.5 519.1,359 519.7,357.6 520.6,356.9 521.2,358.9 522.2,359.8 523.1,358 524,355.8 524.5,357.7 525.3,359.3 526.7,356.7 528.5,357.8 529.1,357.8 530.2,357.3 531.7,358.1 532.8,356.8 533.6,357.4 534.2,358.1 535.1,357.9 536.1,357.2 536.9,357.9 537.5,357.6 538.5,357.2 539.6,358.3 540.3,357.2 541.1,357.1 542,357.5 543,357.9"/>
<polyline fill="none" stroke="#fd3c1c" stroke-width="1.5" stroke-linejoin="round" points="314.9,426.1 315.5,426 316.4,426.8 317.4,425.7 318.1,426.2 318.6,426.5 319.4,426.7 320.3,424.9 320.9,424.6 321.7,427 322.5,425.3 323.3,424.4 324,426.6 324.6,427.5 325.5,427.4 326.3,424.8 327.1,425.6 328,427.2 328.9,424.8 329.6,423.8 330.2,425.9 330.8,429.2 331.7,424.8 332.5,426.1 333.5,428.5 334.4,422.1 336.2,428.6 336.8,427.3 337.5,423.2 338.6,431.2 339.6,420.1 340.5,429 341.2,424.8 342.2,421.6 342.7,427.1 343.4,431.1 344.3,424.4 344.7,421.6 345.6,431.7 346.5,429 347.4,418.9 348.3,429.4 349,430 349.5,427.8 350.2,420.1 351.2,424.9 351.7,428.6 352.8,421.8 353.7,425.9 354.8,437.1 355.5,424.1 356.2,427.6 357.2,430.4 357.9,429.3 358.6,422 359.4,421.6 359.8,430.2 360.6,427.9 361.5,422.7 362.3,426.2 362.9,429 363.8,424.6 364.4,423.4 365.5,429.9 366.4,423.9 367,423.2 367.6,424 368.4,429.2 369.5,419.7 370.6,427.2 371.3,430.6 373.2,422 375,430 376.2,415.3 376.9,413.5 377.8,427.6 378.9,418.9 380,429.4 380.9,423.7 381.5,427.5 382.3,432.7 383,432 384.2,420.3 385.1,429.8 385.8,425 386.7,416.5 387.4,428.7 388.1,437.1 389.2,426.2 390.3,408.1 391.3,426.6 392,442.4 393.9,432.5 394.1,405.3 395.7,418.6 396.5,429.9 397.5,434.5 398.7,437.3 399.9,405.3 400.5,404.2 401.2,414.8 401.4,442.4 402.1,434.6 402.7,430.8 403.8,425.8 404.5,417.4 405.6,433.9 406.3,421 407.5,416 408.1,423.8 408.9,437.6 410.8,413.6 411.4,426.3 412,435.2 412.9,408.7 413.4,408.1 414.3,416.9 415.3,433.6 416.5,413.6 417.3,416.4 417.9,429.4 418.2,412.4 420.3,448.9 421.5,425.5 422.9,405.9 423.9,408.2 424.6,443.5 425.6,417.6 426.3,405.9 426.7,441.3 427.4,428.7 428.2,415.4 428.8,423.4 429.7,431.9 430.1,411.3 433.3,446.7 433.6,417.8 434.4,432.6 435.1,431.9 435.4,405.9 436.3,438.6 437.6,439 438.5,428.3 439.1,411.9 439.8,421.4 440.3,430.3 440.8,415.6 441.9,428.7 442.9,451 443.8,418.8 445,441.9 445.1,408.1 446.1,410.6 446.9,433.6 447.7,422.7 448.2,419 449.4,453.2 450.5,434.8 451.5,413.5 452,415.2 452.9,438.6 453.6,447.6 454.3,455.3 455.1,457 455.9,441.1 456.5,394.6 458,427.4 459,453.2 460.4,435.4 461.2,407 461.8,442.2 463.2,414.1 463.9,433.4 464.4,443.5 465.2,432.4 466.6,403.8 466.7,435.1 467.7,418.9 468.1,452.1 469.1,426.5 470.2,401.7 471.2,446.7 471.9,443.5 472.5,417.1 473.6,432 474.3,441.2 475.4,420.7 476,439.7 476.9,440.4 477.7,423.6 478.4,414.6 478.9,427.1 479.7,437.9 480.5,405.9 481.6,432 482.2,444.6 483.2,417.3 484.2,430.4 485.2,414.5 486.7,428.1 487.6,418.8 488.4,419.3 489.5,427.3 490.1,430 491,424.4 491.7,422.1 492.6,432.3 493.5,426.7 494.3,422.7 495.1,423.8 496.1,427.3 497.2,425.2 498.2,427.4 498.9,426.3 499.8,424.2 500.8,427.5 502,423 503.4,427.2 504.2,424.4 505,423.6 505.8,427.2 506.3,428.3 507.8,424.8 508.5,426.6 509.2,427.1 509.8,426.8 510.5,424.9 511,425.8 511.7,426.9 512.6,426.6 513.1,424.9 514.2,427.3 514.7,427.3 515.5,424.8 516.3,425.7 517.1,427.3 518.1,424.9 518.6,425.2 519.2,426 519.9,427 520.6,426.4 521.5,424.8 522.5,426.5 523.4,425.6 524.2,426.3 525.3,425.6 525.9,425.9 526.9,427 528.1,426.3 528.7,424.8 529.3,424.9 530.3,427.2 531.2,425.4 531.9,426.1 533,426.9 534,425 534.5,426.3 535.3,426.9 536.5,425.4 537.4,427 538.5,426.7 539.2,424.8 539.9,425.9 540.8,427.2 541.4,427.2 542,425.4 542.7,425.5 543.8,426.9"/>
<g stroke="#888" stroke-width="1" fill="none">
<line x1="39.5" y1="5.3" x2="39.5" y2="64.5"/>
<line x1="39.5" y1="53.9" x2="41.7" y2="53.9"/>
<line x1="39.5" y1="37.4" x2="41.7" y2="37.4"/>
<line x1="39.5" y1="20.9" x2="41.7" y2="20.9"/>
<line x1="39.5" y1="71.7" x2="39.5" y2="130.3"/>
<line x1="39.5" y1="129.4" x2="41.7" y2="129.4"/>
<line x1="39.5" y1="117.9" x2="41.7" y2="117.9"/>
<line x1="39.5" y1="106.4" x2="41.7" y2="106.4"/>
<line x1="39.5" y1="94.9" x2="41.7" y2="94.9"/>
<line x1="39.5" y1="83.4" x2="41.7" y2="83.4"/>
<line x1="39.5" y1="71.9" x2="41.7" y2="71.9"/>
<line x1="39.5" y1="137.3" x2="39.5" y2="196.4"/>
<line x1="39.5" y1="187.9" x2="41.7" y2="187.9"/>
<line x1="39.5" y1="165.2" x2="41.7" y2="165.2"/>
<line x1="39.5" y1="142.4" x2="41.7" y2="142.4"/>
<line x1="39.5" y1="196.5" x2="264" y2="196.5"/>
<line x1="91.6" y1="196.5" x2="91.6" y2="194.3"/>
<line x1="144.2" y1="196.5" x2="144.2" y2="194.3"/>
<line x1="196.9" y1="196.5" x2="196.9" y2="194.3"/>
<line x1="249.5" y1="196.5" x2="249.5" y2="194.3"/>
<line x1="314.5" y1="2.9" x2="314.5" y2="62.6"/>
<line x1="314.5" y1="59.9" x2="316.7" y2="59.9"/>
<line x1="314.5" y1="46.7" x2="316.7" y2="46.7"/>
<line x1="314.5" y1="33.5" x2="316.7" y2="33.5"/>
<line x1="314.5" y1="20.3" x2="316.7" y2="20.3"/>
<line x1="314.5" y1="7.1" x2="316.7" y2="7.1"/>
<line x1="314.5" y1="70.2" x2="314.5" y2="129.9"/>
<line x1="314.5" y1="119.4" x2="316.7" y2="119.4"/>
<line x1="314.5" y1="107.7" x2="316.7" y2="107.7"/>
<line x1="314.5" y1="96" x2="316.7" y2="96"/>
<line x1="314.5" y1="84.3" x2="316.7" y2="84.3"/>
<line x1="314.5" y1="72.6" x2="316.7" y2="72.6"/>
<line x1="314.5" y1="137" x2="314.5" y2="197"/>
<line x1="314.5" y1="191.4" x2="316.7" y2="191.4"/>
<line x1="314.5" y1="166.4" x2="316.7" y2="166.4"/>
<line x1="314.5" y1="141.4" x2="316.7" y2="141.4"/>
<line x1="314.5" y1="197.5" x2="543.8" y2="197.5"/>
<line x1="368.4" y1="197.5" x2="368.4" y2="195.3"/>
<line x1="422.1" y1="197.5" x2="422.1" y2="195.3"/>
<line x1="475.8" y1="197.5" x2="475.8" y2="195.3"/>
<line x1="529.5" y1="197.5" x2="529.5" y2="195.3"/>
<line x1="31.5" y1="260.7" x2="31.5" y2="321.7"/>
<line x1="31.5" y1="316.4" x2="33.7" y2="316.4"/>
<line x1="31.5" y1="289.1" x2="33.7" y2="289.1"/>
<line x1="31.5" y1="261.9" x2="33.7" y2="261.9"/>
<line x1="31.5" y1="328.1" x2="31.5" y2="389.2"/>
<line x1="31.5" y1="385.4" x2="33.7" y2="385.4"/>
<line x1="31.5" y1="372.2" x2="33.7" y2="372.2"/>
<line x1="31.5" y1="359.1" x2="33.7" y2="359.1"/>
<line x1="31.5" y1="345.9" x2="33.7" y2="345.9"/>
<line x1="31.5" y1="332.8" x2="33.7" y2="332.8"/>
<line x1="31.5" y1="396.9" x2="31.5" y2="457.8"/>
<line x1="31.5" y1="444.9" x2="33.7" y2="444.9"/>
<line x1="31.5" y1="426.9" x2="33.7" y2="426.9"/>
<line x1="31.5" y1="408.8" x2="33.7" y2="408.8"/>
<line x1="31.5" y1="457.5" x2="264.4" y2="457.5"/>
<line x1="86" y1="457.5" x2="86" y2="455.3"/>
<line x1="140.6" y1="457.5" x2="140.6" y2="455.3"/>
<line x1="195.1" y1="457.5" x2="195.1" y2="455.3"/>
<line x1="249.7" y1="457.5" x2="249.7" y2="455.3"/>
<line x1="314.5" y1="261.3" x2="314.5" y2="321.5"/>
<line x1="314.5" y1="307.6" x2="316.7" y2="307.6"/>
<line x1="314.5" y1="290.8" x2="316.7" y2="290.8"/>
<line x1="314.5" y1="273.9" x2="316.7" y2="273.9"/>
<line x1="314.5" y1="328.2" x2="314.5" y2="388.1"/>
<line x1="314.5" y1="377.6" x2="316.7" y2="377.6"/>
<line x1="314.5" y1="357.6" x2="316.7" y2="357.6"/>
<line x1="314.5" y1="337.5" x2="316.7" y2="337.5"/>
<line x1="314.5" y1="394.9" x2="314.5" y2="455.1"/>
<line x1="314.5" y1="452.8" x2="316.7" y2="452.8"/>
<line x1="314.5" y1="426.1" x2="316.7" y2="426.1"/>
<line x1="314.5" y1="399.3" x2="316.7" y2="399.3"/>
<line x1="314.5" y1="455.5" x2="543.9" y2="455.5"/>
<line x1="368.5" y1="455.5" x2="368.5" y2="453.3"/>
<line x1="422.2" y1="455.5" x2="422.2" y2="453.3"/>
<line x1="475.8" y1="455.5" x2="475.8" y2="453.3"/>
<line x1="529.5" y1="455.5" x2="529.5" y2="453.3"/>
</g>
<g font-family="Liberation Serif, serif" fill="#000" stroke="#000" stroke-width="0.22">
<text x="28.8" y="24" font-size="9.5" text-anchor="end">2</text>
<text x="28.9" y="40.8" font-size="9.5" text-anchor="end">0</text>
<text x="35.3" y="57.2" font-size="9.5" text-anchor="end">2</text>
<text x="20.9" y="57.6" font-size="9.5" textLength="8.6" lengthAdjust="spacingAndGlyphs">−</text>
<text x="28.8" y="87.2" font-size="9.5" text-anchor="end">2</text>
<text x="28.9" y="98.7" font-size="9.5" text-anchor="end">0</text>
<text x="35.3" y="109.9" font-size="9.5" text-anchor="end">2</text>
<text x="21.1" y="110.3" font-size="9.5" textLength="8.6" lengthAdjust="spacingAndGlyphs">−</text>
<text x="35.3" y="121.2" font-size="9.5" text-anchor="end">4</text>
<text x="21.1" y="121.6" font-size="9.5" textLength="8.6" lengthAdjust="spacingAndGlyphs">−</text>
<text x="32" y="145.6" font-size="9.5" text-anchor="end">10</text>
<text x="29.1" y="169.1" font-size="9.5" text-anchor="end">0</text>
<text x="35.7" y="191.8" font-size="9.5" text-anchor="end">10</text>
<text x="15.9" y="192.2" font-size="9.5" textLength="8.6" lengthAdjust="spacingAndGlyphs">−</text>
<text x="305.4" y="23" font-size="9.5" text-anchor="end">2</text>
<text x="305.4" y="35.5" font-size="9.5" text-anchor="end">0</text>
<text x="312.3" y="48.8" font-size="9.5" text-anchor="end">2</text>
<text x="297.9" y="49.2" font-size="9.5" textLength="8.6" lengthAdjust="spacingAndGlyphs">−</text>
<text x="305.4" y="86.5" font-size="9.5" text-anchor="end">4</text>
<text x="305.4" y="98.2" font-size="9.5" text-anchor="end">2</text>
<text x="305.4" y="109.9" font-size="9.5" text-anchor="end">0</text>
<text x="312.3" y="121.2" font-size="9.5" text-anchor="end">2</text>
<text x="297.9" y="121.6" font-size="9.5" textLength="8.6" lengthAdjust="spacingAndGlyphs">−</text>
<text x="307.4" y="146" font-size="9.5" text-anchor="end">10</text>
<text x="305.3" y="169.1" font-size="9.5" text-anchor="end">0</text>
<text x="312.3" y="194.1" font-size="9.5" text-anchor="end">10</text>
<text x="292.4" y="194.5" font-size="9.5" textLength="8.6" lengthAdjust="spacingAndGlyphs">−</text>
<text x="22.7" y="265.8" font-size="9.5" text-anchor="end">5</text>
<text x="23" y="290.4" font-size="9.5" text-anchor="end">0</text>
<text x="29.5" y="319.7" font-size="9.5" text-anchor="end">5</text>
<text x="14.1" y="320.1" font-size="9.5" textLength="8.6" lengthAdjust="spacingAndGlyphs">−</text>
<text x="23" y="349.7" font-size="9.5" text-anchor="end">2</text>
<text x="23" y="362.8" font-size="9.5" text-anchor="end">0</text>
<text x="29.9" y="376.5" font-size="9.5" text-anchor="end">2</text>
<text x="14.9" y="376.9" font-size="9.5" textLength="8.6" lengthAdjust="spacingAndGlyphs">−</text>
<text x="23" y="413.5" font-size="9.5" text-anchor="end">5</text>
<text x="23" y="431.1" font-size="9.5" text-anchor="end">0</text>
<text x="29.9" y="449.6" font-size="9.5" text-anchor="end">5</text>
<text x="15.2" y="450" font-size="9.5" textLength="8.6" lengthAdjust="spacingAndGlyphs">−</text>
<text x="304.1" y="274.2" font-size="9.5" text-anchor="end">5</text>
<text x="304.1" y="290.6" font-size="9.5" text-anchor="end">0</text>
<text x="310.9" y="307.6" font-size="9.5" text-anchor="end">5</text>
<text x="296.2" y="308" font-size="9.5" textLength="8.6" lengthAdjust="spacingAndGlyphs">−</text>
<text x="304.1" y="337.8" font-size="9.5" text-anchor="end">5</text>
<text x="304.1" y="357.6" font-size="9.5" text-anchor="end">0</text>
<text x="310.9" y="377.4" font-size="9.5" text-anchor="end">5</text>
<text x="296.2" y="377.8" font-size="9.5" textLength="8.6" lengthAdjust="spacingAndGlyphs">−</text>
<text x="304.7" y="401.8" font-size="9.5" text-anchor="end">10</text>
<text x="299.7" y="428.7" font-size="9.5" text-anchor="end">0</text>
<text x="311.6" y="453.7" font-size="9.5" text-anchor="end">10</text>
<text x="291.9" y="454.1" font-size="9.5" textLength="8.6" lengthAdjust="spacingAndGlyphs">−</text>
<text x="39" y="206.2" font-size="9.5" text-anchor="middle">0</text>
<text x="91.6" y="206.2" font-size="9.5" text-anchor="middle">0.5</text>
<text x="144.2" y="206.2" font-size="9.5" text-anchor="middle">1</text>
<text x="196.9" y="206.2" font-size="9.5" text-anchor="middle">1.5</text>
<text x="249.5" y="206.2" font-size="9.5" text-anchor="middle">2</text>
<text x="150.3" y="220.8" font-size="10" text-anchor="middle"><tspan font-style="italic">t</tspan><tspan dx="0.6">/(s)</tspan></text>
<text x="70.6" y="245.9" font-size="12.6" stroke-width="0.06" textLength="125.2" lengthAdjust="spacingAndGlyphs">(<tspan font-weight="bold">a</tspan>) Monitoring point 1#</text>
<text x="314.7" y="207.8" font-size="9.5" text-anchor="middle">0</text>
<text x="368.4" y="207.8" font-size="9.5" text-anchor="middle">0.5</text>
<text x="422.1" y="207.8" font-size="9.5" text-anchor="middle">1</text>
<text x="475.8" y="207.8" font-size="9.5" text-anchor="middle">1.5</text>
<text x="529.5" y="207.8" font-size="9.5" text-anchor="middle">2</text>
<text x="428.6" y="221.8" font-size="10" text-anchor="middle"><tspan font-style="italic">t</tspan><tspan dx="0.6">/(s)</tspan></text>
<text x="380.8" y="245.9" font-size="12.6" stroke-width="0.06" textLength="127.2" lengthAdjust="spacingAndGlyphs">(<tspan font-weight="bold">b</tspan>) Monitoring point 2#</text>
<text x="31.4" y="467.7" font-size="9.5" text-anchor="middle">0</text>
<text x="86" y="467.7" font-size="9.5" text-anchor="middle">0.5</text>
<text x="140.6" y="467.7" font-size="9.5" text-anchor="middle">1</text>
<text x="195.1" y="467.7" font-size="9.5" text-anchor="middle">1.5</text>
<text x="249.7" y="467.7" font-size="9.5" text-anchor="middle">2</text>
<text x="147.5" y="482.4" font-size="10" text-anchor="middle"><tspan font-style="italic">t</tspan><tspan dx="0.6">/(s)</tspan></text>
<text x="70.6" y="505.9" font-size="12.6" stroke-width="0.06" textLength="125.2" lengthAdjust="spacingAndGlyphs">(<tspan font-weight="bold">c</tspan>) Monitoring point 3#</text>
<text x="314.9" y="464.9" font-size="9.5" text-anchor="middle">0</text>
<text x="368.5" y="464.9" font-size="9.5" text-anchor="middle">0.5</text>
<text x="422.2" y="464.9" font-size="9.5" text-anchor="middle">1</text>
<text x="475.8" y="464.9" font-size="9.5" text-anchor="middle">1.5</text>
<text x="529.5" y="464.9" font-size="9.5" text-anchor="middle">2</text>
<text x="428.6" y="479.4" font-size="10" text-anchor="middle"><tspan font-style="italic">t</tspan><tspan dx="0.6">/(s)</tspan></text>
<text x="380.8" y="505.9" font-size="12.6" stroke-width="0.06" textLength="127.2" lengthAdjust="spacingAndGlyphs">(<tspan font-weight="bold">d</tspan>) Monitoring point 4#</text>
<text transform="translate(9.9,61.3) rotate(-90)" font-size="9.9"><tspan font-style="italic">v</tspan><tspan font-style="italic" font-size="6.6" dy="1.0">x</tspan><tspan dy="-1.0">/(cm/s)</tspan></text>
<text transform="translate(9.8,125.9) rotate(-90)" font-size="9.9"><tspan font-style="italic">v</tspan><tspan font-style="italic" font-size="6.6" dy="1.0">y</tspan><tspan dy="-1.0">/(cm/s)</tspan></text>
<text transform="translate(9.8,192.6) rotate(-90)" font-size="9.9"><tspan font-style="italic">v</tspan><tspan font-style="italic" font-size="6.6" dy="1.0">z</tspan><tspan dy="-1.0">/(cm/s)</tspan></text>
<text transform="translate(289.9,54.9) rotate(-90)" font-size="9.9"><tspan font-style="italic">v</tspan><tspan font-style="italic" font-size="6.6" dy="1.0">x</tspan><tspan dy="-1.0">/(cm/s)</tspan></text>
<text transform="translate(289.9,121.7) rotate(-90)" font-size="9.9"><tspan font-style="italic">v</tspan><tspan font-style="italic" font-size="6.6" dy="1.0">y</tspan><tspan dy="-1.0">/(cm/s)</tspan></text>
<text transform="translate(289.9,188.1) rotate(-90)" font-size="9.9"><tspan font-style="italic">v</tspan><tspan font-style="italic" font-size="6.6" dy="1.0">z</tspan><tspan dy="-1.0">/(cm/s)</tspan></text>
<text transform="translate(9.5,307.4) rotate(-90)" font-size="9.9"><tspan font-style="italic">v</tspan><tspan font-style="italic" font-size="6.6" dy="1.0">x</tspan><tspan dy="-1.0">/(cm/s)</tspan></text>
<text transform="translate(9.5,375.4) rotate(-90)" font-size="9.9"><tspan font-style="italic">v</tspan><tspan font-style="italic" font-size="6.6" dy="1.0">y</tspan><tspan dy="-1.0">/(cm/s)</tspan></text>
<text transform="translate(9.5,443.8) rotate(-90)" font-size="9.9"><tspan font-style="italic">v</tspan><tspan font-style="italic" font-size="6.6" dy="1.0">z</tspan><tspan dy="-1.0">/(cm/s)</tspan></text>
<text transform="translate(289.9,304.3) rotate(-90)" font-size="9.9"><tspan font-style="italic">v</tspan><tspan font-style="italic" font-size="6.6" dy="1.0">x</tspan><tspan dy="-1.0">/(cm/s)</tspan></text>
<text transform="translate(289.9,370.4) rotate(-90)" font-size="9.9"><tspan font-style="italic">v</tspan><tspan font-style="italic" font-size="6.6" dy="1.0">y</tspan><tspan dy="-1.0">/(cm/s)</tspan></text>
<text transform="translate(289.1,437.9) rotate(-90)" font-size="9.9"><tspan font-style="italic">v</tspan><tspan font-style="italic" font-size="6.6" dy="1.0">z</tspan><tspan dy="-1.0">/(cm/s)</tspan></text>
</g>
</svg>
</body></html>
